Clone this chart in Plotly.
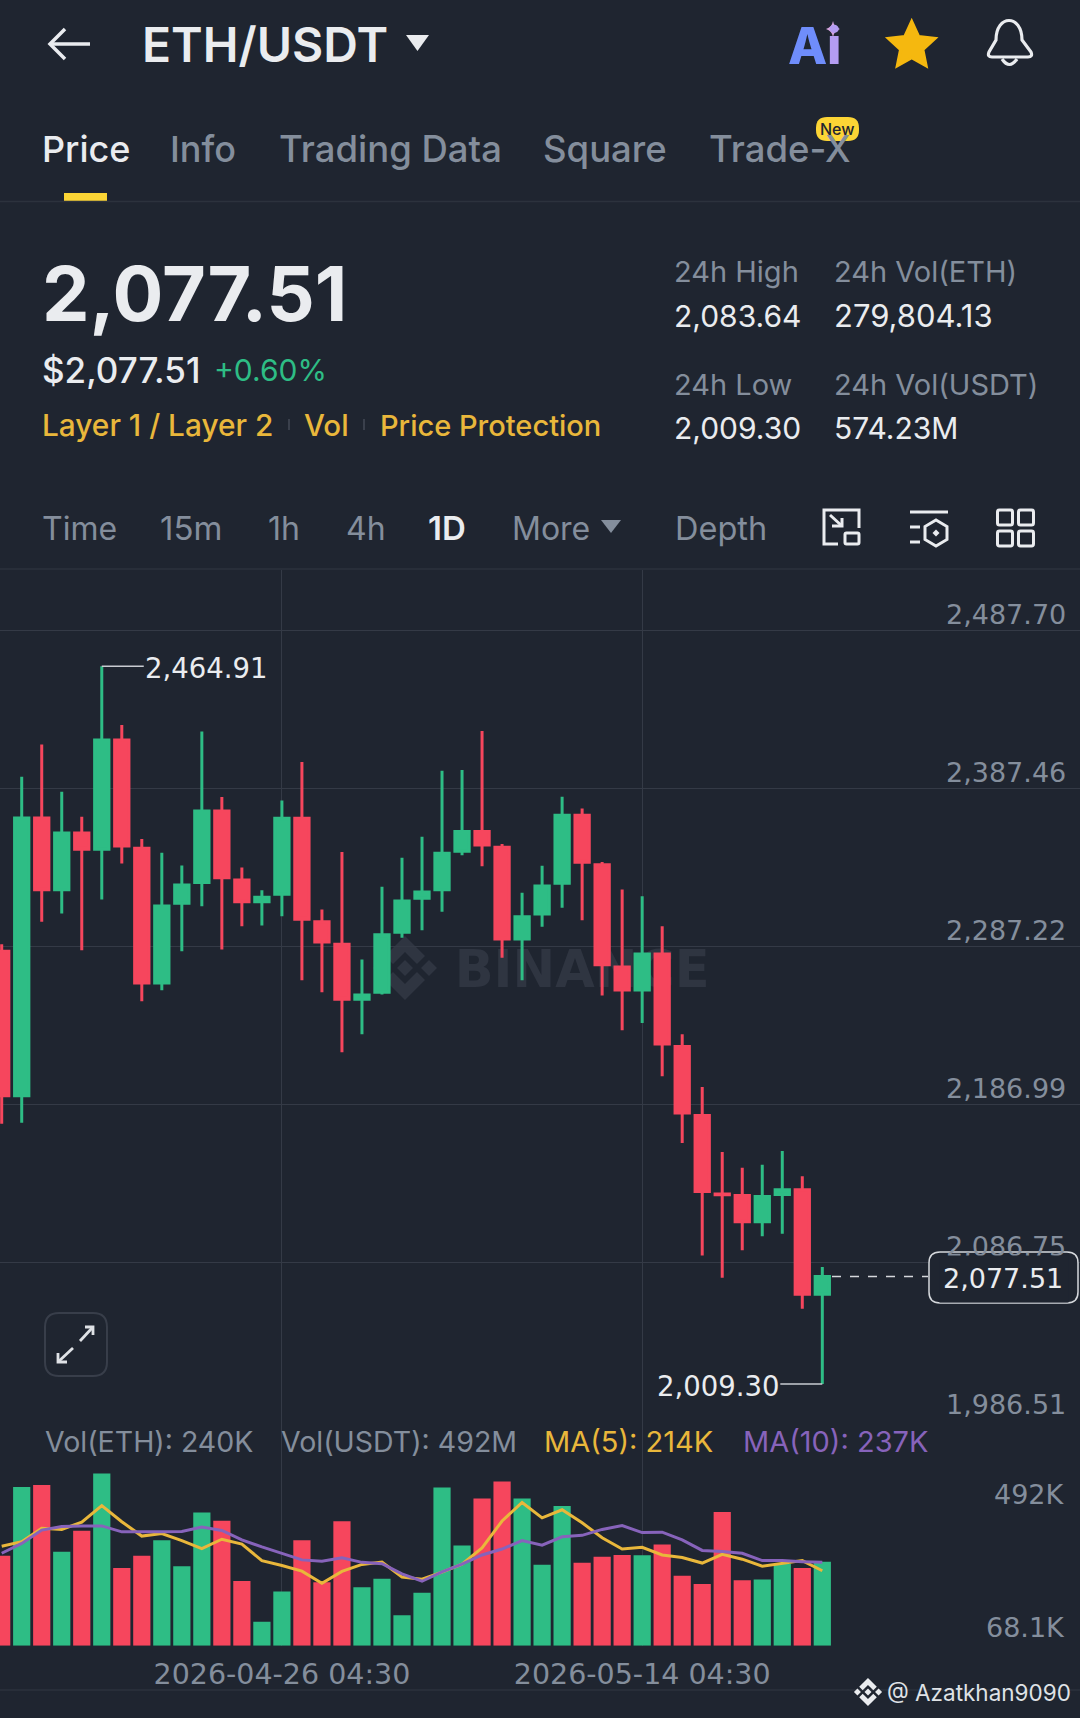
import math
import pandas as pd
import plotly.graph_objects as go

# daily candles
dates = pd.date_range("2026-04-12 04:30", periods=42, freq="D")
opens = [2283.95, 2192.30, 2368.63, 2323.13, 2359.10, 2348.75, 2418.17, 2349.36, 2263.86, 2314.45,
         2327.58, 2373.07, 2329.25, 2315.51, 2320.17, 2368.42, 2302.79, 2288.39, 2253.48, 2257.93,
         2296.03, 2317.63, 2323.13, 2347.48, 2359.95, 2350.00, 2291.80, 2307.68, 2327.15, 2370.32,
         2338.99, 2274.00, 2259.41, 2282.25, 2223.61, 2179.79, 2130.00, 2128.98, 2112.28, 2129.64,
         2132.58, 2066.34]
highs = [2288.51, 2394.78, 2415.32, 2385.26, 2369.38, 2464.91, 2427.60, 2355.20, 2346.52, 2338.47,
         2423.57, 2381.87, 2337.20, 2322.80, 2379.75, 2404.10, 2310.53, 2346.94, 2278.77, 2324.92,
         2343.34, 2356.68, 2398.59, 2399.01, 2423.78, 2352.02, 2321.11, 2338.26, 2382.08, 2374.67,
         2340.59, 2323.23, 2318.99, 2299.94, 2231.35, 2197.90, 2156.62, 2146.67, 2148.57, 2157.25,
         2141.16, 2083.64]
lows = [2174.61, 2175.25, 2302.69, 2307.99, 2284.70, 2316.88, 2339.74, 2252.31, 2259.29, 2284.06,
        2312.64, 2285.12, 2299.94, 2300.36, 2306.29, 2265.65, 2258.02, 2219.92, 2231.35, 2256.50,
        2292.53, 2297.40, 2309.04, 2345.03, 2338.05, 2279.83, 2265.64, 2299.52, 2311.58, 2303.75,
        2255.91, 2233.89, 2238.55, 2204.67, 2162.33, 2090.99, 2076.81, 2094.17, 2103.06, 2104.75,
        2057.12, 2009.30]
closes = [2192.30, 2368.63, 2323.13, 2359.10, 2348.75, 2418.17, 2350.86, 2263.86, 2312.74, 2326.08,
          2373.07, 2330.75, 2315.51, 2318.24, 2368.42, 2304.29, 2289.89, 2253.48, 2256.22, 2294.53,
          2315.92, 2321.63, 2346.19, 2359.95, 2351.50, 2291.80, 2305.96, 2325.44, 2370.32, 2340.49,
          2275.50, 2259.41, 2282.25, 2225.11, 2181.29, 2131.54, 2129.40, 2112.28, 2128.35, 2132.58,
          2066.34, 2077.51]

# volume in thousands of ETH
volumes = [257, 453, 459, 268, 328, 492, 222, 257, 301, 227, 380, 357, 185, 68.1, 155, 301, 181, 355, 167, 191,
           87, 151, 452, 286, 420, 469, 420, 231, 399, 237, 254, 259, 258, 289, 200, 176, 382, 187, 189, 234,
           222, 240]
ma5 = [284, 297, 335, 332, 353, 400, 354, 313, 320, 300, 277, 304, 290, 243, 229, 213, 178, 212, 232, 239,
       196, 190, 210, 233, 279, 356, 409, 365, 388, 351, 308, 276, 281, 259, 252, 236, 261, 247, 227, 234,
       243, 214]
ma10 = [264, 292, 330, 340, 342, 342, 325, 324, 325, 326, 339, 329, 302, 282, 264, 245, 241, 251, 238, 234,
        205, 184, 211, 233, 259, 276, 300, 287, 311, 315, 332, 343, 323, 324, 302, 272, 269, 264, 243, 243,
        240, 238]

price_ticks = [2487.70, 2387.46, 2287.22, 2186.99, 2086.75, 1986.51]
date_ticks = ["2026-04-26 04:30", "2026-05-14 04:30"]

W = 1080
H = 1718
BG = "#1f2530"
GRID = "#343a46"
GREEN = "#2ebd85"
RED = "#f6465d"
GRAY = "#848e9c"
WHITE = "#eaecef"
YELLOW = "#e9b73b"
FONT = "Inter"
CHART_FONT = "DejaVu Sans"


def px(x, y):
    return f"{x / W:.5f},{1 - y / H:.5f}"


def poly(points, close=True):
    d = "M" + " L".join(px(x, y) for x, y in points)
    return d + (" Z" if close else "")


def round_rect(x0, y0, x1, y1, r):
    return ("M" + px(x0 + r, y0) + " L" + px(x1 - r, y0) + " Q" + px(x1, y0) + " " + px(x1, y0 + r)
            + " L" + px(x1, y1 - r) + " Q" + px(x1, y1) + " " + px(x1 - r, y1)
            + " L" + px(x0 + r, y1) + " Q" + px(x0, y1) + " " + px(x0, y1 - r)
            + " L" + px(x0, y0 + r) + " Q" + px(x0, y0) + " " + px(x0 + r, y0) + " Z")


def diamond(cx, cy, r):
    return poly([(cx, cy - r), (cx + r, cy), (cx, cy + r), (cx - r, cy)])


shapes = []


def draw(d, fill=None, line=None, width=0, layer="above"):
    shapes.append(dict(type="path", path=d, xref="paper", yref="paper", layer=layer,
                       fillcolor=fill if fill else "rgba(0,0,0,0)",
                       line=dict(color=line if line else "rgba(0,0,0,0)", width=width)))


def logo(cx, cy, s, color, layer):
    top = [(0, -32), (20, -12), (12, -4), (0, -16), (-12, -4), (-20, -12)]
    draw(poly([(cx + a * s, cy + b * s) for a, b in top]), fill=color, layer=layer)
    draw(poly([(cx + a * s, cy - b * s) for a, b in top]), fill=color, layer=layer)
    draw(diamond(cx, cy, 8 * s), fill=color, layer=layer)
    draw(diamond(cx - 24 * s, cy, 8 * s), fill=color, layer=layer)
    draw(diamond(cx + 24 * s, cy, 8 * s), fill=color, layer=layer)


annotations = []


def text(x, y, s, size, color, anchor="left", weight=400, family=FONT):
    if anchor == "left":
        x -= 3
    annotations.append(dict(x=x / W, y=1 - y / H, xref="paper", yref="paper", text=s, showarrow=False,
                            xanchor=anchor, yanchor="middle",
                            font=dict(family=family, size=size, color=color, weight=weight)))


fig = go.Figure()

# watermark goes in the base subplot so the candles sit on top of it
fig.add_trace(go.Scatter(x=[dates[29]], y=[2269.6], mode="text", text=["BINANCE"], textposition="middle center",
                         textfont=dict(family=CHART_FONT, size=51, color="#2f3541", weight=700),
                         xaxis="x", yaxis="y", hoverinfo="skip", showlegend=False))
logo(405, 968, 1, "#2f3541", "below")

fig.add_trace(go.Candlestick(x=dates, open=opens, high=highs, low=lows, close=closes,
                             xaxis="x", yaxis="y3", whiskerwidth=0, hoverinfo="skip", showlegend=False,
                             increasing=dict(line=dict(color=GREEN, width=3), fillcolor=GREEN),
                             decreasing=dict(line=dict(color=RED, width=3), fillcolor=RED)))

bar_colors = [GREEN if c >= o else RED for o, c in zip(opens, closes)]
fig.add_trace(go.Bar(x=dates, y=volumes, marker=dict(color=bar_colors, line=dict(width=0)),
                     xaxis="x2", yaxis="y2", hoverinfo="skip", showlegend=False))
fig.add_trace(go.Scatter(x=dates, y=ma5, mode="lines", line=dict(color="#e9b73b", width=3),
                         xaxis="x2", yaxis="y2", hoverinfo="skip", showlegend=False))
fig.add_trace(go.Scatter(x=dates, y=ma10, mode="lines", line=dict(color="#8763bb", width=3),
                         xaxis="x2", yaxis="y2", hoverinfo="skip", showlegend=False))

# header
draw(poly([(90, 44), (51, 44)], close=False), line=WHITE, width=3.5)
draw(poly([(65, 29), (50, 44), (65, 59)], close=False), line=WHITE, width=3.5)
text(143, 45, "ETH/USDT", 48, WHITE, weight=600)
draw(poly([(406, 35), (429, 35), (417.5, 51)]), fill=WHITE)
text(789, 46, "A", 51, "#6f8dfb", weight=800)
text(828, 46, "i", 51, "#b49df2", weight=800)
draw("M" + px(833, 21) + " Q" + px(834, 27) + " " + px(840, 29) + " Q" + px(834, 31) + " " + px(833, 37)
     + " Q" + px(832, 31) + " " + px(826, 29) + " Q" + px(832, 27) + " " + px(833, 21) + " Z", fill="#d8a6e0")
star = []
for k in range(10):
    r = 24 if k % 2 == 0 else 11.5
    a = -math.pi / 2 + k * math.pi / 5
    star.append((911.7 + r * math.cos(a), 46 + r * math.sin(a)))
draw(poly(star), fill="#f5b80f", line="#f5b80f", width=3.5)
draw("M" + px(992, 57) + " L" + px(1028, 57) + " Q" + px(1033, 57) + " " + px(1031, 52) + " L" + px(1022, 40)
     + " C" + px(1022, 14) + " " + px(996, 14) + " " + px(996, 40) + " L" + px(989, 52)
     + " Q" + px(987, 57) + " " + px(992, 57) + " Z", line=WHITE, width=3.2)
draw("M" + px(1002, 59) + " Q" + px(1009.5, 70) + " " + px(1017, 59), line=WHITE, width=3.2)

# tabs
text(43, 149, "Price", 36, WHITE, weight=500)
text(171, 149, "Info", 36, GRAY, weight=500)
text(280, 149, "Trading Data", 36.5, GRAY, weight=500)
text(544, 149, "Square", 36.5, GRAY, weight=500)
text(710, 149, "Trade-X", 36.5, GRAY, weight=500)
draw(round_rect(816, 117, 859, 141, 11), fill="#fcd535")
text(837.5, 129, "New", 16, "#1f2530", anchor="center", weight=500)
draw(poly([(64, 193), (107, 193), (107, 201), (64, 201)]), fill="#fcd535")
draw(poly([(0, 201.5), (W, 201.5)], close=False), line="#2c323d", width=1.5)

# price block
text(43, 293, "2,077.51", 75.5, WHITE, weight=700)
text(43, 370, "$2,077.51", 35, WHITE, weight=500)
text(215, 370, "+0.60%", 30, GREEN, weight=400)
text(43, 425, "Layer 1 / Layer 2", 29.8, YELLOW, weight=500)
text(305, 425, "Vol", 29.5, YELLOW, weight=500)
text(381, 425, "Price Protection", 29, YELLOW, weight=500)
draw(poly([(289, 419), (289, 430)], close=False), line="#3a404c", width=2)
draw(poly([(364, 419), (364, 430)], close=False), line="#3a404c", width=2)
text(675, 272, "24h High", 29, GRAY)
text(675, 316, "2,083.64", 30, WHITE)
text(675, 385, "24h Low", 29, GRAY)
text(675, 428, "2,009.30", 30, WHITE)
text(835, 272, "24h Vol(ETH)", 29, GRAY)
text(835, 316, "279,804.13", 31, WHITE)
text(835, 385, "24h Vol(USDT)", 29, GRAY)
text(835, 428, "574.23M", 30, WHITE)

# toolbar
text(43, 528, "Time", 32, GRAY)
text(161, 528, "15m", 33, GRAY)
text(269, 528, "1h", 32, GRAY)
text(347, 528, "4h", 32, GRAY)
text(429, 528, "1D", 33, WHITE, weight=600)
text(513, 528, "More", 32, GRAY)
draw(poly([(601, 520), (621, 520), (611, 533)]), fill=GRAY)
text(676, 528, "Depth", 32.5, GRAY)

draw(poly([(838, 544), (824, 544), (824, 510), (859, 510), (859, 528)], close=False), line=WHITE, width=3)
draw(poly([(830, 515), (842, 526)], close=False), line=WHITE, width=3)
draw(poly([(832, 526), (842, 526), (842, 518)], close=False), line=WHITE, width=3)
draw(round_rect(845, 533, 859, 544, 1.5), line=WHITE, width=3)
draw(poly([(910, 512), (948, 512)], close=False), line=WHITE, width=3)
draw(poly([(910, 527), (920, 527)], close=False), line=WHITE, width=3)
draw(poly([(910, 542), (920, 542)], close=False), line=WHITE, width=3)
draw(poly([(936, 520), (947, 526.5), (947, 539.5), (936, 546), (925, 539.5), (925, 526.5)]), line=WHITE, width=3)
draw(diamond(936, 533, 3.5), fill=WHITE)
for gx, gy in [(997.5, 510), (1018.5, 510), (997.5, 531), (1018.5, 531)]:
    draw(round_rect(gx, gy, gx + 15, gy + 15, 2), line=WHITE, width=3)
draw(poly([(0, 569), (W, 569)], close=False), line="#2c323d", width=1.5)

# price scale labels sit above their gridlines
for p in price_ticks:
    annotations.append(dict(x=1, y=p, xref="paper", yref="y3", text=f"{p:,.2f}", showarrow=False, xanchor="right",
                            yanchor="middle", xshift=-12, yshift=16, font=dict(family=CHART_FONT, size=27, color=GRAY)))

# highest and lowest price callouts
shapes.append(dict(type="line", xref="x", yref="y3", xsizemode="pixel", xanchor=dates[5], x0=0, x1=42,
                   y0=max(highs), y1=max(highs), line=dict(color="#c9ccd2", width=1.5)))
annotations.append(dict(x=dates[5], y=max(highs), xref="x", yref="y3", text=f"{max(highs):,.2f}", xanchor="left",
                        yanchor="middle", showarrow=False, xshift=41, yshift=-2,
                        font=dict(family=CHART_FONT, size=27.5, color=WHITE)))
shapes.append(dict(type="line", xref="x", yref="y3", xsizemode="pixel", xanchor=dates[41], x0=-42, x1=0,
                   y0=min(lows), y1=min(lows), line=dict(color="#c9ccd2", width=1.5)))
annotations.append(dict(x=dates[41], y=min(lows), xref="x", yref="y3", text=f"{min(lows):,.2f}", xanchor="right",
                        yanchor="middle", showarrow=False, xshift=-41, yshift=-2,
                        font=dict(family=CHART_FONT, size=27.5, color=WHITE)))

# last price marker
shapes.append(dict(type="line", xref="paper", yref="y3", x0=832 / W, x1=928 / W, y0=closes[-1], y1=closes[-1],
                   line=dict(color="#d5d8dc", width=1.5, dash="dash")))
draw(round_rect(929, 1252, 1078, 1303, 11), fill=BG, line="#d5d8dc", width=1.5)
annotations.append(dict(x=1004 / W, y=1 - 1278.5 / H, xref="paper", yref="paper", text=" ", showarrow=False, width=126,
                        height=44, bgcolor=BG, xanchor="center", yanchor="middle", font=dict(size=10)))
text(1065, 1278, f"{closes[-1]:,.2f}", 27, WHITE, anchor="right", family=CHART_FONT)

# fullscreen button
draw(round_rect(45, 1313, 107, 1376, 14), line="#383e4a", width=2)
draw(poly([(85, 1327), (93, 1327), (93, 1335)], close=False), line="#dfe2e6", width=2.8)
draw(poly([(93, 1327), (80, 1341)], close=False), line="#dfe2e6", width=2.8)
draw(poly([(58, 1353), (58, 1362), (67, 1362)], close=False), line="#dfe2e6", width=2.8)
draw(poly([(58, 1362), (73, 1348)], close=False), line="#dfe2e6", width=2.8)

# volume legend and scale
text(46, 1441.5, "Vol(ETH): 240K", 28.5, GRAY)
text(282, 1441.5, "Vol(USDT): 492M", 28.5, GRAY)
text(545, 1441.5, "MA(5): 214K", 29, YELLOW)
text(744, 1441.5, "MA(10): 237K", 29, "#8763bb")
text(1067, 1494, "492K", 27, GRAY, anchor="right", family=CHART_FONT)
text(1067, 1627, "68.1K", 27, GRAY, anchor="right", family=CHART_FONT)

# footer
draw(poly([(0, 1690), (W, 1690)], close=False), line="#2c323d", width=1.5)
logo(868, 1692, 0.44, WHITE, "above")
text(888, 1692, "@ Azatkhan9090", 22.5, "#dfe2e6")

x_range = ["2026-04-12 02:28", "2026-06-05 01:30"]
axis_common = dict(type="date", range=x_range, showgrid=True, gridcolor=GRID, gridwidth=1.2, zeroline=False,
                   tickmode="array", tickvals=date_ticks, fixedrange=True, rangeslider=dict(visible=False))
price_range = [1986.51, 2526.0]
price_axis = dict(range=price_range, domain=[298 / H, 1148 / H], tickmode="array", tickvals=price_ticks,
                  showgrid=True, gridcolor=GRID, gridwidth=1.2, zeroline=False, showticklabels=False, fixedrange=True)

fig.update_layout(
    width=W,
    height=H,
    margin=dict(l=0, r=0, t=0, b=0),
    paper_bgcolor=BG,
    plot_bgcolor=BG,
    showlegend=False,
    hovermode=False,
    bargap=0.14,
    boxgap=0.285,
    boxgroupgap=0,
    shapes=shapes,
    annotations=annotations,
    xaxis=dict(anchor="y", showticklabels=False, **axis_common),
    yaxis=price_axis,
    yaxis3=dict(range=price_range, domain=[298 / H, 1148 / H], overlaying="y", showgrid=False, zeroline=False,
                showticklabels=False, fixedrange=True),
    xaxis2=dict(anchor="y2", showticklabels=True, tickformat="%Y-%m-%d %H:%M", ticks="outside", ticklen=3,
                tickcolor="rgba(0,0,0,0)", tickfont=dict(family=CHART_FONT, size=28.5, color=GRAY), **axis_common),
    yaxis2=dict(range=[0, 644.4], domain=[72.3 / H, 298 / H], tickmode="array", tickvals=[0], showgrid=True,
                gridcolor=GRID, gridwidth=1.2, zeroline=False, showticklabels=False, fixedrange=True),
)

# the default body margin would push the figure off the window edge
fig.write_html("out.html", config={"displayModeBar": False}, post_script="document.body.style.margin='0';")
